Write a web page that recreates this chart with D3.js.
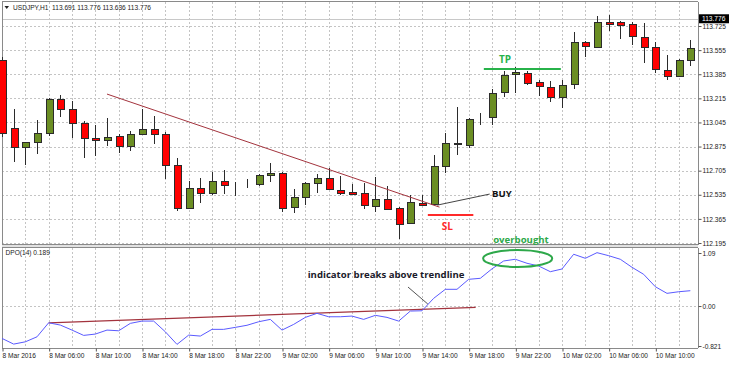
<!DOCTYPE html>
<html><head><meta charset="utf-8">
<script src="https://cdn.jsdelivr.net/npm/d3@7"></script>
<style>body{margin:0;background:#fff}svg{display:block}</style>
</head><body><svg id="c" width="729" height="365"></svg>
<script>
// ---------------- data ----------------
const titleText = "USDJPY,H1  113.691 113.776 113.636 113.776";
const indicatorTitle = "DPO(14) 0.189";
const currentPrice = 113.776;

const opens = [113.485,113.005,112.871,112.907,112.970,113.210,113.140,113.041,112.935,112.921,
  112.949,112.879,112.963,112.998,112.963,112.745,112.441,112.582,112.547,112.632,
  112.611,112.611,112.611,112.674,112.688,112.448,112.519,112.618,112.653,112.568,
  112.554,112.547,112.455,112.505,112.441,112.335,112.477,112.469,112.737,112.893,
  112.886,113.076,113.083,113.259,113.386,113.393,113.330,113.295,113.224,113.316,
  113.612,113.577,113.753,113.753,113.739,113.647,113.577,113.415,113.372,113.485];
const highs = [113.506,113.140,112.910,113.062,113.215,113.238,113.196,113.055,113.027,113.076,
  112.963,112.984,113.140,113.090,112.977,112.794,112.632,112.653,112.695,112.709,
  112.625,112.646,112.681,112.759,112.695,112.575,112.625,112.681,112.723,112.667,
  112.611,112.618,112.660,112.596,112.448,112.533,112.533,112.815,112.970,113.154,
  113.076,113.111,113.281,113.408,113.436,113.408,113.344,113.337,113.344,113.683,
  113.619,113.796,113.803,113.760,113.753,113.746,113.612,113.520,113.492,113.626];
const lows = [112.942,112.766,112.745,112.822,112.949,113.083,112.935,112.794,112.808,112.879,
  112.829,112.843,112.960,112.893,112.646,112.420,112.438,112.477,112.533,112.540,
  112.526,112.582,112.596,112.625,112.413,112.406,112.462,112.547,112.568,112.533,
  112.533,112.434,112.413,112.430,112.222,112.332,112.458,112.462,112.688,112.815,
  112.864,113.027,113.027,113.224,113.252,113.309,113.231,113.189,113.147,113.281,
  113.506,113.574,113.690,113.633,113.591,113.464,113.393,113.344,113.365,113.443];
const closes = [112.970,112.871,112.907,112.970,113.210,113.140,113.041,112.935,112.921,112.942,
  112.879,112.963,112.998,112.963,112.745,112.441,112.582,112.547,112.632,112.604,
  112.611,112.611,112.674,112.688,112.441,112.519,112.618,112.653,112.575,112.547,
  112.540,112.462,112.505,112.434,112.328,112.484,112.462,112.737,112.900,112.900,
  113.069,113.079,113.252,113.379,113.401,113.323,113.302,113.224,113.309,113.612,
  113.584,113.753,113.739,113.732,113.654,113.577,113.422,113.372,113.485,113.570];
const dpoValues = [-0.665,-0.782,-0.735,-0.632,-0.344,-0.391,-0.494,-0.603,-0.576,-0.494,
  -0.508,-0.356,-0.309,-0.309,-0.529,-0.788,-0.597,-0.617,-0.479,-0.479,
  -0.438,-0.395,-0.323,-0.274,-0.494,-0.377,-0.233,-0.150,-0.220,-0.220,
  -0.206,-0.274,-0.191,-0.233,-0.309,-0.103,-0.097,0.158,0.344,0.344,
  0.549,0.570,0.765,0.926,0.961,0.879,0.823,0.706,0.761,1.064,
  0.981,1.097,1.035,0.961,0.796,0.652,0.397,0.261,0.294,0.315];

const priceTicks = [113.725,113.555,113.385,113.215,113.045,112.875,112.705,112.535,112.365,112.195];
const dpoTicks = [1.09, 0.00, -0.821];
const dpoTickLabels = ["1.09", "0.00", "-0.821"];
const timeTickIndex = [0,4,8,12,16,20,24,28,32,36,40,44,48,52,56];
const timeTickLabels = ["8 Mar 2016","8 Mar 06:00","8 Mar 10:00","8 Mar 14:00","8 Mar 18:00",
  "8 Mar 22:00","9 Mar 02:00","9 Mar 06:00","9 Mar 10:00","9 Mar 14:00","9 Mar 18:00",
  "9 Mar 22:00","10 Mar 02:00","10 Mar 06:00","10 Mar 10:00"];

// annotations (bar index, value)
const priceTrend = [[9, 113.245], [37.5, 112.448]];
const buyPointer = [[37.3, 112.462], [41.8, 112.540]];
const buyLabel = [42.0, 112.540, "BUY"];
const tpLine = [[41.3, 113.422], [47.9, 113.422]];
const tpLabel = [42.6, 113.492, "TP"];
const slLine = [[36.5, 112.392], [40.4, 112.392]];
const slLabel = [37.7, 112.314, "SL"];
const dpoTrend = [[4, -0.344], [40.6, -0.027]];
const breakPointer = [[34.8, 0.391], [36.5, 0.041]];
const breakLabel = [26.2, 0.638, "indicator breaks above trendline"];
const obLabel = [42.1, 1.358, "overbought"];
const obEllipse = [44.2, 0.977, 2.96, 0.175]; // cx, cy, rx(bars), ry(value)

// ---------------- layout ----------------
const L = 2, R = 698;
const pTop = 2, pBot = 245, iTop = 248, iBot = 348;
const svg = d3.select("#c");
const font = "'Liberation Sans', Arial, sans-serif";
const bold = "'Open Sans', 'Liberation Sans', sans-serif";

const idx = d3.range(opens.length);
const x = d3.scaleLinear().domain([0, 59]).range([2, 690.33]);
const y = d3.scaleLinear().domain([112.195, 113.725]).range([243, 26]);
const yi = d3.scaleLinear().domain([-0.821, 1.09]).range([346, 253]);

svg.append("rect").attr("width", 729).attr("height", 365).attr("fill", "#fff");

// grids
const gridC = "#c4c4c4";
const vg = svg.append("g").attr("stroke", gridC).attr("stroke-dasharray", "2,2").attr("shape-rendering", "crispEdges");
const vIdx = d3.range(0, 60, 2);
vg.selectAll("line.p").data(vIdx).join("line").attr("class","p")
  .attr("x1", d => Math.round(x(d)) + 0.5).attr("x2", d => Math.round(x(d)) + 0.5)
  .attr("y1", pTop).attr("y2", pBot);
vg.selectAll("line.i").data(vIdx).join("line").attr("class","i")
  .attr("x1", d => Math.round(x(d)) + 0.5).attr("x2", d => Math.round(x(d)) + 0.5)
  .attr("y1", iTop).attr("y2", iBot);
vg.selectAll("line.h").data(priceTicks).join("line").attr("class","h")
  .attr("x1", L).attr("x2", R).attr("y1", d => Math.round(y(d)) + 0.5).attr("y2", d => Math.round(y(d)) + 0.5);
vg.append("line").attr("x1", L).attr("x2", R).attr("y1", Math.round(yi(0)) + 0.5).attr("y2", Math.round(yi(0)) + 0.5);

// current price line
svg.append("line").attr("x1", L).attr("x2", R)
  .attr("y1", Math.round(y(currentPrice)) + 0.5).attr("y2", Math.round(y(currentPrice)) + 0.5)
  .attr("stroke", "#c8c8c8").attr("shape-rendering", "crispEdges");

// borders
const bc = "#8a8a8a";
svg.append("line").attr("x1", L).attr("x2", R).attr("y1", 1.5).attr("y2", 1.5).attr("stroke", bc);
svg.append("line").attr("x1", 2.5).attr("x2", 2.5).attr("y1", 1.5).attr("y2", iBot).attr("stroke", bc);
svg.append("rect").attr("x", L).attr("y", 244.5).attr("width", R - L).attr("height", 3).attr("fill", "#e2e2e2");
svg.append("line").attr("x1", L).attr("x2", R).attr("y1", 244.5).attr("y2", 244.5).attr("stroke", bc);
svg.append("line").attr("x1", L).attr("x2", R).attr("y1", 247.5).attr("y2", 247.5).attr("stroke", bc);

// candles
const green = "#6b8e23", red = "#ff0000", edge = "#2b2b2b";
const cg = svg.append("g").attr("shape-rendering", "crispEdges");
cg.selectAll("line.w").data(idx).join("line").attr("class","w")
  .attr("x1", i => Math.round(x(i)) + 0.5).attr("x2", i => Math.round(x(i)) + 0.5)
  .attr("y1", i => y(highs[i])).attr("y2", i => y(lows[i]))
  .attr("stroke", edge);
cg.selectAll("rect").data(idx).join("rect")
  .attr("x", i => Math.round(x(i)) - 3)
  .attr("width", 7)
  .attr("y", i => Math.round(Math.min(y(opens[i]), y(closes[i]))) + 0.5)
  .attr("height", i => Math.max(0, Math.round(Math.abs(y(opens[i]) - y(closes[i])))))
  .attr("fill", i => closes[i] >= opens[i] ? green : red)
  .attr("stroke", edge);

const line = d3.line().x(d => x(d[0])).y(d => y(d[1]));
const lineI = d3.line().x(d => x(d[0])).y(d => yi(d[1]));

// price trendline & annotations
svg.append("path").attr("d", line(priceTrend)).attr("stroke", "#a3333d").attr("stroke-width", 1).attr("fill", "none");
svg.append("path").attr("d", line(buyPointer)).attr("stroke", "#444").attr("stroke-width", 1).attr("fill", "none");
svg.append("path").attr("d", line(tpLine)).attr("stroke", "#27b24a").attr("stroke-width", 2).attr("fill", "none");
svg.append("path").attr("d", line(slLine)).attr("stroke", "#ff2a2a").attr("stroke-width", 2).attr("fill", "none");
function label(a, yy, color, size) {
  svg.append("text").attr("x", x(a[0])).attr("y", yy(a[1])).attr("dy", "0.35em")
    .attr("font-family", bold).attr("font-weight", "bold").attr("font-size", size)
    .attr("fill", color).text(a[2]);
}
label(buyLabel, y, "#111", 9.6);
label(tpLabel, y, "#27b24a", 10);
label(slLabel, y, "#ff2a2a", 10);

// DPO
svg.append("path").attr("d", lineI(dpoTrend)).attr("stroke", "#a3333d").attr("stroke-width", 1.2).attr("fill", "none");
svg.append("path").attr("d", lineI(idx.map(i => [i, dpoValues[i]])))
  .attr("stroke", "#5a5aff").attr("stroke-width", 1).attr("fill", "none");
svg.append("path").attr("d", lineI(breakPointer)).attr("stroke", "#555").attr("stroke-width", 1).attr("fill", "none");
label(breakLabel, yi, "#1a1a2a", 9.6);
label(obLabel, yi, "#2ea84a", 9.6);
svg.append("ellipse")
  .attr("cx", x(obEllipse[0])).attr("cy", yi(obEllipse[1]))
  .attr("rx", x(obEllipse[2]) - x(0)).attr("ry", yi(0) - yi(obEllipse[3]))
  .attr("fill", "none").attr("stroke", "#2ea84a").attr("stroke-width", 2);

// axes
function styleAxis(g) {
  g.selectAll("path.domain").attr("stroke", bc);
  g.selectAll(".tick line").attr("stroke", "#555");
  g.selectAll("text").attr("font-family", font).attr("font-size", 6.6).attr("fill", "#222");
}
const ay = svg.append("g").attr("transform", `translate(${R + 0.5},0)`)
  .call(d3.axisRight(y).tickValues(priceTicks).tickSize(3).tickSizeOuter(0).tickFormat(d3.format(".3f")));
ay.select("path.domain").attr("d", `M0,${pTop}V${pBot}`);
styleAxis(ay);
ay.selectAll("text").attr("x", 4);

const ai = svg.append("g").attr("transform", `translate(${R + 0.5},0)`)
  .call(d3.axisRight(yi).tickValues(dpoTicks).tickSize(3).tickSizeOuter(0).tickFormat((d, k) => dpoTickLabels[k]));
ai.select("path.domain").attr("d", `M0,${iTop}V${iBot}`);
styleAxis(ai);
ai.selectAll("text").attr("x", 4);

const ax = svg.append("g").attr("transform", `translate(0,${iBot + 0.5})`)
  .call(d3.axisBottom(x).tickValues(timeTickIndex).tickSize(3).tickSizeOuter(0).tickFormat((d, k) => timeTickLabels[k]));
ax.select("path.domain").attr("d", `M${L},0H${R}`);
styleAxis(ax);
ax.selectAll("text").attr("text-anchor", "start").attr("x", 0).attr("y", 5);
ax.selectAll(".tick line").attr("transform", "translate(0.5,0)");

// current price tag
svg.append("rect").attr("x", R + 1).attr("y", y(currentPrice) - 4.5).attr("width", 30).attr("height", 9).attr("fill", "#000");
svg.append("text").attr("x", R + 4).attr("y", y(currentPrice)).attr("dy", "0.35em")
  .attr("font-family", font).attr("font-size", 6.6).attr("fill", "#fff").text(currentPrice.toFixed(3));

// titles
svg.append("path").attr("d", "M4.5,6 L9,6 L6.75,9 Z").attr("fill", "#222");
svg.append("text").attr("x", 13).attr("y", 7.5).attr("dy", "0.35em")
  .attr("font-family", font).attr("font-size", 6.6).attr("fill", "#222").attr("xml:space", "preserve")
  .style("white-space", "pre").text(titleText);
svg.append("text").attr("x", 5.5).attr("y", 253).attr("dy", "0.35em")
  .attr("font-family", font).attr("font-size", 6.6).attr("fill", "#222").text(indicatorTitle);
</script></body></html>
